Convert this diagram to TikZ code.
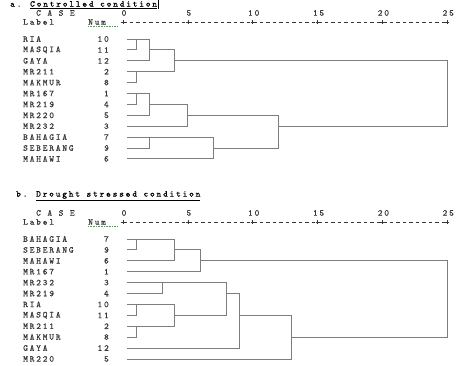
\documentclass[tikz,border=0pt]{standalone}
\usepackage{fontspec}
\usetikzlibrary{positioning}
\newfontfamily\spssfamily{Latin Modern Mono}[LetterSpace=20,FakeBold=0.3]
\definecolor{TreeGrey}{RGB}{125,125,125}
\definecolor{TextDark}{RGB}{55,55,55}
\definecolor{SpellGreen}{RGB}{70,165,70}

\newcommand{\spssfont}{\spssfamily\fontsize{9}{10}\selectfont}
\tikzset{
  txt/.style={font=\spssfont, text=TextDark, inner sep=0pt},
  tree/.style={TreeGrey, line width=0.8pt},
  axisdash/.style={TextDark, line width=0.5pt, dash pattern=on 3.5pt off 3pt},
  tick/.style={TextDark, line width=0.6pt}
}
% bracket: {x of child A}{row A}{x of join}{x of child B}{row B}
\newcommand{\bracket}[5]{%
  \draw[tree] ({123+12.97*#1},#2) -- ({123+12.97*#3},#2)
    -- ({123+12.97*#3},#5) -- ({123+12.97*#4},#5);}
% scale and header of one panel
\newcommand{\axishead}[1]{%
  \node[txt,anchor=west] (#1-case) at (36,-2.39) {C A S E};
  \node[txt,anchor=west] (#1-label) at (23,-1.56) {Label};
  \node[txt,anchor=west] (#1-numhead) at (88,-1.56) {Num};
  \draw[SpellGreen,densely dotted,line width=0.6pt]
    ([yshift=-1.5pt]#1-numhead.south west) -- ++(30,0);
  \draw[axisdash] (123,-1.56) -- (447,-1.56);
  \foreach \k [evaluate=\k as \v using int(5*\k)] in {0,...,5}{
    \node[txt] (#1-tick-\k) at ({124+64.85*\k},-2.39) {\v};
    \draw[tick] ({123+64.85*\k},-1.56) +(-2,0) -- +(2,0)
      +(0,-0.18) -- +(0,0.18);
  }}

\begin{document}
\begin{tikzpicture}[x=1pt,y=-1pt]
  \useasboundingbox (0,0) rectangle (474,366);
  % Titles
  \node[txt,text=black,anchor=west] (titleA) at (10,5) {a. \underline{Controlled condition}};
  \draw[black,line width=1.2pt] (158.5,0) -- (158.5,9.5);
  \node[txt,text=black,anchor=west] (titleB) at (16,196) {b. \underline{Drought stressed condition}};

  % Panel a
  \begin{scope}[shift={(0,39)},y=-10.9pt]
    \axishead{a}
    \foreach \lab/\num [count=\i from 0] in {RIA/10,MASQIA/11,GAYA/12,
        MR211/2,MAKMUR/8,MR167/1,MR219/4,MR220/5,MR232/3,
        BAHAGIA/7,SEBERANG/9,MAHAWI/6}{
      \node[txt,anchor=west] (a-lab-\i) at (23,\i) {\lab};
      \node[txt,anchor=east] (a-num-\i) at (109,\i) {\num};
    }
    % Tree
    \bracket{0.3}{0}{1}{0.3}{1}
    \bracket{1}{0}{2}{0.3}{2}
    \bracket{0.3}{3}{1}{0.3}{4}
    \bracket{2}{1}{4}{1}{3}
    \bracket{0.3}{5}{1}{0.3}{6}
    \bracket{1}{5}{2}{0.3}{7}
    \bracket{2}{6}{5}{0.3}{8}
    \bracket{0.3}{9}{2}{0.3}{10}
    \bracket{2}{9}{7}{0.3}{11}
    \bracket{5}{7}{12}{7}{10}
    \bracket{4}{2}{25}{12}{8}
  \end{scope}

  % Panel b
  \begin{scope}[shift={(0,239)},y=-10.9pt]
    \axishead{b}
    \foreach \lab/\num [count=\i from 0] in {BAHAGIA/7,SEBERANG/9,MAHAWI/6,
        MR167/1,MR232/3,MR219/4,RIA/10,MASQIA/11,MR211/2,
        MAKMUR/8,GAYA/12,MR220/5}{
      \node[txt,anchor=west] (b-lab-\i) at (23,\i) {\lab};
      \node[txt,anchor=east] (b-num-\i) at (109,\i) {\num};
    }
    % Tree
    \bracket{0.3}{0}{1}{0.3}{1}
    \bracket{1}{0}{4}{0.3}{2}
    \bracket{4}{1}{6}{0.3}{3}
    \bracket{0.3}{4}{3}{0.3}{5}
    \bracket{0.3}{6}{1}{0.3}{7}
    \bracket{0.3}{8}{1}{0.3}{9}
    \bracket{1}{6}{4}{1}{8}
    \bracket{3}{4}{8}{4}{7}
    \bracket{8}{5}{9}{0.3}{10}
    \bracket{9}{7}{13}{0.3}{11}
    \bracket{6}{2}{25}{13}{9}
  \end{scope}
\end{tikzpicture}
\end{document}
